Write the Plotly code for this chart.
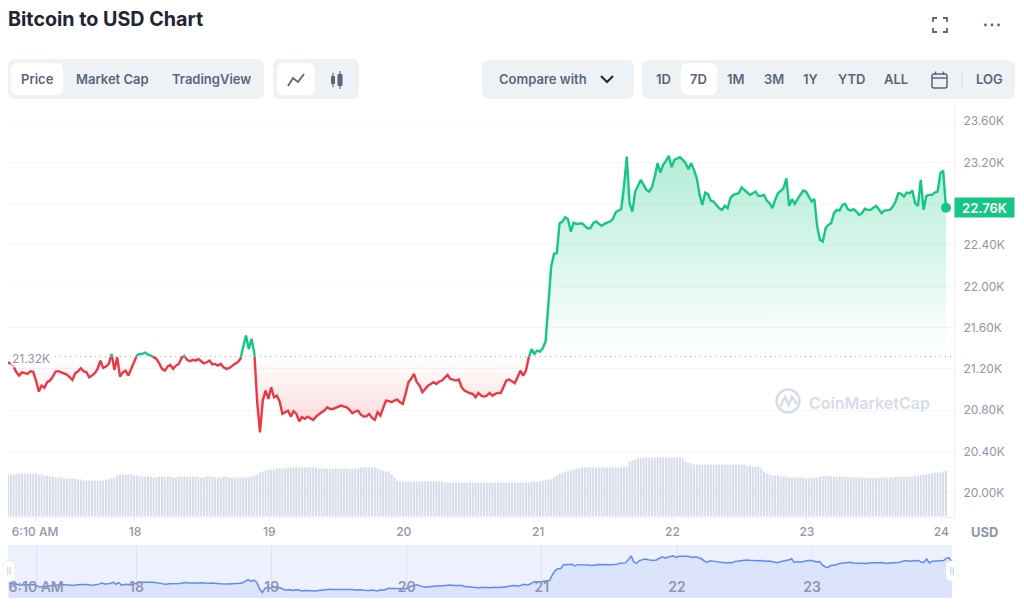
import pandas as pd
import plotly.graph_objects as go

# ---------- data ----------
START = "2023-01-17 01:20"
BASELINE = 21.32
LAST_LABEL = "22.76K"
BASELINE_LABEL = "21.32K"
PRICES = [
21.265,21.249,21.223,21.168,21.136,21.168,21.159,21.152,21.178,21.172,21.088,20.981,21.039,21.017,21.072,21.088,21.126,21.175,21.178,21.165,
21.152,21.146,21.12,21.094,21.159,21.178,21.207,21.178,21.168,21.12,21.136,21.159,21.201,21.281,21.21,21.223,21.249,21.346,21.191,21.314,
21.126,21.168,21.184,21.136,21.201,21.249,21.33,21.346,21.346,21.359,21.339,21.33,21.314,21.297,21.255,21.201,21.184,21.223,21.239,21.201,
21.233,21.249,21.307,21.326,21.288,21.275,21.288,21.281,21.297,21.275,21.255,21.265,21.281,21.243,21.249,21.233,21.249,21.217,21.201,21.207,
21.233,21.249,21.265,21.297,21.41,21.523,21.394,21.491,21.346,20.878,20.587,20.894,20.991,20.91,21.023,20.926,20.942,20.888,20.765,20.781,
20.797,20.739,20.791,20.765,20.694,20.733,20.717,20.739,20.726,20.707,20.739,20.765,20.781,20.797,20.829,20.813,20.813,20.823,20.836,
20.846,20.836,20.829,20.804,20.771,20.788,20.797,20.758,20.739,20.742,20.765,20.726,20.707,20.781,20.749,20.823,20.894,20.888,20.878,20.894,
20.904,20.878,20.862,20.959,21.072,21.104,21.152,21.072,21.039,20.975,21.007,21.039,21.055,21.072,21.055,21.078,21.088,21.113,21.143,21.104,
21.094,21.088,21.097,21.023,20.991,20.975,20.965,20.959,20.926,20.968,20.942,20.933,20.942,20.968,20.942,20.959,20.968,20.968,21.023,21.088,
21.097,21.081,21.062,21.12,21.184,21.136,21.184,21.314,
21.391,21.346,21.378,21.368,21.401,21.465,21.862,22.191,22.314,22.32,22.611,22.627,22.669,22.65,22.53,22.617,22.604,22.611,22.611,22.585,
22.562,22.562,22.611,22.627,22.604,22.585,22.604,22.617,22.627,22.65,22.714,22.733,22.746,22.966,23.256,22.804,22.724,22.917,22.972,23.03,
22.982,22.934,22.917,22.959,23.063,23.192,23.101,23.176,23.214,23.263,23.153,23.224,23.237,23.25,23.224,23.192,23.134,23.192,23.127,23.046,
22.885,22.788,22.908,22.892,22.83,22.821,22.788,22.756,22.74,22.779,22.756,22.853,22.885,22.892,22.901,22.956,22.934,22.911,22.885,22.901,
22.917,22.875,22.875,22.885,22.83,22.804,22.756,22.837,22.901,
22.924,22.95,23.046,22.779,22.843,22.798,22.843,22.885,22.927,22.917,22.869,22.821,22.843,22.579,22.449,22.433,22.562,22.595,22.611,22.708,
22.74,22.733,22.788,22.798,22.746,22.733,22.746,22.724,22.691,22.708,22.75,22.74,22.74,22.756,22.779,22.746,22.708,22.733,22.733,22.74,
22.772,22.821,22.901,22.895,22.869,22.908,22.901,22.927,22.804,22.779,23.03,22.74,22.875,22.885,22.885,22.908,22.917,23.095,23.121,22.76,
]
VOLUMES = [
42,42,42,43,43,43,43,43,43,43,43,42,42,41,41,40,40,39,39,39,38,38,38,38,38,37,37,36,36,36,36,36,36,36,36,37,37,38,39,
41,42,42,42,42,42,41,41,40,40,40,40,40,39,39,40,40,40,40,40,39,39,40,40,40,40,40,40,40,40,39,39,40,40,40,39,39,39,40,40,39,39,39,39,39,39,
39,39,40,41,42,44,45,46,47,47,47,48,48,48,48,49,49,49,49,49,49,49,49,49,49,49,
48,48,48,48,48,48,48,48,48,48,48,48,48,48,48,49,49,49,49,49,49,48,47,46,45,45,42,39,36,35,
35,35,35,35,35,35,35,35,35,35,35,35,35,35,35,
34,34,34,34,34,34,34,34,34,34,34,34,34,34,34,34,34,34,34,34,34,34,34,34,34,34,34,34,34,34,34,
35,35,35,35,36,36,37,37,39,41,43,44,45,45,46,47,48,48,
49,49,49,49,49,49,49,49,49,49,49,49,49,49,49,50,50,55,56,57,58,58.5,
59,59,59,59,59,59,59,59,59,59,59,59,59,59,58,55,54,53,52,52,
52,52,52,52,52,52,52,52,52,52,52,52,52,52,52,52,52,
51,51,50,50,50,48,45,43,42,41,41,41,40,40,40,39,39,39,39,39,38.5,38.5,38.5,38.5,
39,39,40,40,40.5,40.5,40,40,40,40,40,39.5,39.5,39,39,39,39,39,38.5,38.5,38.5,38.5,38.5,38.5,
39,39,39,39,39,39.5,39.5,39.5,40,40,40,40,41,41,41,42,42,43,43,44,44,44,45,45.5,
]
Y_TICKS = [20.0, 20.4, 20.8, 21.2, 21.6, 22.0, 22.4, 22.8, 23.2, 23.6]
Y_LABELS = ["20.00K","20.40K","20.80K","21.20K","21.60K","22.00K","22.40K","","23.20K","23.60K"]
X_TICKS = ["2023-01-17 06:10","2023-01-18","2023-01-19","2023-01-20","2023-01-21","2023-01-22","2023-01-23","2023-01-24"]
X_LABELS = ["6:10 AM","18","19","20","21","22","23","24"]
NAV_TICKS = X_TICKS[:-1]
NAV_LABELS = X_LABELS[:-1]

# ---------- styles ----------
W, H = 1024, 611
GREEN, RED = "#16c784", "#ea3943"
GREY = "#8f96ab"
UI = "#58667e"
PANEL = "#eff2f5"
GRID = "#f4f5f7"
FONT = "Inter"

def px(x): return x / W
def py(y): return 1 - y / H

# ---------- split the line at the baseline ----------
t = pd.date_range(START, periods=len(PRICES), freq="30min")
ms = [int(v.value // 10**6) for v in t]
xs, ys = [ms[0]], [PRICES[0]]
for i in range(1, len(PRICES)):
    a, b = PRICES[i - 1], PRICES[i]
    if (a - BASELINE) * (b - BASELINE) < 0:
        f = (BASELINE - a) / (b - a)
        xs.append(ms[i - 1] + f * (ms[i] - ms[i - 1]))
        ys.append(BASELINE)
    xs.append(ms[i])
    ys.append(b)

def keep(test):
    ox, oy = [], []
    for i, (x, y) in enumerate(zip(xs, ys)):
        if test(y):
            ox.append(x); oy.append(y)
        elif ox and ox[-1] is not None:
            ox.append(None); oy.append(None)
    return ox, oy

gx, gy = keep(lambda v: v >= BASELINE)
rx, ry = keep(lambda v: v <= BASELINE)
up = [max(v, BASELINE) for v in ys]
down = [min(v, BASELINE) for v in ys]
flat = [BASELINE] * len(xs)

fig = go.Figure()
nofill = dict(mode="lines", line=dict(width=0), hoverinfo="skip", showlegend=False)

fig.add_trace(go.Bar(x=ms[:len(VOLUMES)], y=VOLUMES, yaxis="y2", marker=dict(color="#d6dcea", line=dict(width=0)), hoverinfo="skip", showlegend=False))
fig.add_trace(go.Scatter(x=xs, y=flat, **nofill))
fig.add_trace(go.Scatter(x=xs, y=up, fill="tonexty", fillgradient=dict(type="vertical", start=BASELINE, stop=23.25,
    colorscale=[[0, "rgba(22,199,132,0)"], [1, "rgba(22,199,132,0.32)"]]), **nofill))
fig.add_trace(go.Scatter(x=xs, y=flat, **nofill))
fig.add_trace(go.Scatter(x=xs, y=down, fill="tonexty", fillgradient=dict(type="vertical", start=BASELINE, stop=20.6,
    colorscale=[[0, "rgba(234,57,67,0)"], [1, "rgba(234,57,67,0.2)"]]), **nofill))
fig.add_trace(go.Scatter(x=rx, y=ry, mode="lines", line=dict(color=RED, width=2.4), hoverinfo="skip", showlegend=False))
fig.add_trace(go.Scatter(x=gx, y=gy, mode="lines", line=dict(color=GREEN, width=2.4), hoverinfo="skip", showlegend=False))
fig.add_trace(go.Scatter(x=[ms[-1]], y=[PRICES[-1]], mode="markers", marker=dict(color=GREEN, size=10), hoverinfo="skip", showlegend=False))
fig.add_trace(go.Scatter(x=ms, y=PRICES, xaxis="x2", yaxis="y3", mode="lines", fill="tozeroy", fillcolor="#dbe4fb",
    line=dict(color="#6188ff", width=1.5), hoverinfo="skip", showlegend=False))

# ---------- helpers for page furniture ----------
shapes, notes = [], []

def rrect(x0, y0, x1, y1, r, color, line=None, layer="below"):
    p = (f"M{px(x0+r)},{py(y0)} L{px(x1-r)},{py(y0)} Q{px(x1)},{py(y0)} {px(x1)},{py(y0+r)} "
         f"L{px(x1)},{py(y1-r)} Q{px(x1)},{py(y1)} {px(x1-r)},{py(y1)} L{px(x0+r)},{py(y1)} "
         f"Q{px(x0)},{py(y1)} {px(x0)},{py(y1-r)} L{px(x0)},{py(y0+r)} Q{px(x0)},{py(y0)} {px(x0+r)},{py(y0)} Z")
    shapes.append(dict(type="path", xref="paper", yref="paper", path=p, fillcolor=color,
                       line=dict(width=line[1] if line else 0, color=line[0] if line else color), layer=layer))

def poly(pts, color, width=1.6):
    p = "M" + " L".join(f"{px(x)},{py(y)}" for x, y in pts)
    shapes.append(dict(type="path", xref="paper", yref="paper", path=p, line=dict(color=color, width=width), layer="above"))

def dot(x, y, r, color, fill=True, width=0):
    shapes.append(dict(type="circle", xref="paper", yref="paper", x0=px(x-r), x1=px(x+r), y0=py(y+r), y1=py(y-r),
                       fillcolor=color if fill else "rgba(0,0,0,0)", line=dict(color=color, width=width), layer="above"))

def text(x, y, s, size=13, color=UI, weight=600, anchor="center"):
    notes.append(dict(xref="paper", yref="paper", x=px(x), y=py(y), text=s, showarrow=False, xanchor=anchor, yanchor="middle",
                      font=dict(family=FONT, size=size, color=color, weight=weight)))

# navigator background
rrect(8, 545, 952, 598, 0.01, "#edf1fe")

# button groups
rrect(8, 59, 264, 99, 8, PANEL)
rrect(11, 63, 63, 95, 7, "#ffffff")
rrect(273, 59, 359, 99, 8, PANEL)
rrect(277, 63, 315, 95, 7, "#ffffff")
rrect(482, 60, 634, 99, 8, PANEL)
rrect(642, 60, 1015, 99, 8, PANEL)
rrect(681, 63, 717, 95, 7, "#ffffff")

for x, s in [(37, "Price"), (112, "Market Cap"), (211, "TradingView"), (543, "Compare with"),
             (663, "1D"), (698, "7D"), (736, "1M"), (774, "3M"), (810, "1Y"), (851, "YTD"), (896, "ALL"), (989, "LOG")]:
    text(x, 79, s)

poly([(288, 86), (293, 78), (298, 82), (304, 74)], UI, 1.8)
poly([(333, 73), (333, 87)], UI, 1.2)
poly([(340, 71), (340, 89)], UI, 1.2)
rrect(331, 76, 335, 84, 1, UI, layer="above")
rrect(337.5, 74, 342.5, 86, 1, UI, layer="above")
poly([(601, 76), (607, 82), (613, 76)], "#222531", 2)
rrect(932, 74, 947, 88, 2, "rgba(0,0,0,0)", line=(UI, 1.5), layer="above")
poly([(932, 78), (947, 78)], UI, 1.5)
poly([(935.5, 71.5), (935.5, 75)], UI, 1.5)
poly([(943.5, 71.5), (943.5, 75)], UI, 1.5)
poly([(962, 71), (962, 88)], "#dde1e7", 1.2)

# fullscreen and menu icons
for a, b, c in [((933, 22), (933, 18), (937, 18)), ((943, 18), (947, 18), (947, 22)),
                ((947, 28), (947, 32), (943, 32)), ((937, 32), (933, 32), (933, 28))]:
    poly([a, b, c], UI, 1.8)
for x in (985.5, 992, 998.5):
    dot(x, 25, 1.4, UI)

# watermark
dot(788, 401, 11.5, "#d6dce8", fill=False, width=2.4)
poly([(780, 407), (785, 397), (788.5, 405), (792, 397), (797, 404)], "#d6dce8", 2.4)
text(869, 403, "CoinMarketCap", size=16, color="#d6dce8", weight=600)

# navigator grips
rrect(3, 561, 15, 581, 5, "#ffffff", line=("#e6e9f0", 0.6), layer="above")
rrect(946, 561, 958, 581, 5, "#ffffff", line=("#e6e9f0", 0.6), layer="above")
for x in (7.8, 10.2, 950.8, 953.2):
    poly([(x, 567), (x, 575)], "#c3cad8", 1)

text(984, 532, "USD", size=13, color=GREY, weight=700)

# price tag and baseline label, tied to the value axis
notes.append(dict(xref="paper", yref="y", x=px(954), y=PRICES[-1], text=LAST_LABEL, showarrow=False, xanchor="left", yanchor="middle",
                  width=59, height=19, align="center", bgcolor=GREEN, borderpad=0,
                  font=dict(family=FONT, size=13, color="#ffffff", weight=600)))
notes.append(dict(xref="paper", yref="y", x=px(10), y=BASELINE, yshift=-2, text=BASELINE_LABEL, showarrow=False, xanchor="left", yanchor="middle",
                  bgcolor="rgba(255,255,255,0.65)", borderpad=1,
                  font=dict(family=FONT, size=12, color=GREY, weight=400)))

shapes.append(dict(type="line", xref="paper", yref="y", x0=px(55), x1=px(954), y0=BASELINE, y1=BASELINE,
                   line=dict(color="#a8aeb9", width=1, dash="1px,4px"), layer="above"))

fig.update_layout(
    width=W, height=H, margin=dict(l=0, r=0, t=0, b=0), autosize=False,
    paper_bgcolor="#ffffff", plot_bgcolor="rgba(0,0,0,0)", bargap=0.28, hovermode=False,
    font=dict(family=FONT),
    title=dict(text="Bitcoin to USD Chart", x=px(8), xref="paper", xanchor="left", y=py(19), yref="paper", yanchor="middle",
               font=dict(family=FONT, size=19.7, color="#222531", weight=700)),
    xaxis=dict(type="date", domain=[px(8), px(954)], range=["2023-01-17 01:20", "2023-01-24 02:16"], anchor="y",
               tickmode="array", tickvals=X_TICKS, ticktext=X_LABELS, showgrid=False, zeroline=False,
               showline=True, linecolor=PANEL, linewidth=1, ticks="outside", ticklen=4, tickcolor=PANEL,
               tickfont=dict(family=FONT, size=12, color=GREY, weight=500), tickangle=0, fixedrange=True),
    yaxis=dict(domain=[py(516.5), py(105)], range=[19.772, 23.755], side="right", anchor="x",
               tickmode="array", tickvals=Y_TICKS, ticktext=Y_LABELS, showgrid=True, gridcolor=GRID, gridwidth=1, zeroline=False,
               showline=True, linecolor=PANEL, linewidth=1, ticks="", ticklabelstandoff=6,
               tickfont=dict(family=FONT, size=12, color=GREY, weight=400), fixedrange=True),
    yaxis2=dict(overlaying="y", range=[0, 411.5], visible=False, fixedrange=True),
    xaxis2=dict(type="date", domain=[px(8), px(952)], range=["2023-01-17 01:10", "2023-01-24 00:50"], anchor="y3",
                tickmode="array", tickvals=NAV_TICKS, ticktext=NAV_LABELS, showgrid=True, gridcolor="#dde3f3", gridwidth=1,
                zeroline=False, ticks="", ticklen=0, ticklabelposition="inside", tickangle=0,
                tickfont=dict(family=FONT, size=14, color=GREY, weight=600), fixedrange=True),
    yaxis3=dict(domain=[py(598), py(545)], range=[20.19, 24.05], anchor="x2", visible=False, fixedrange=True),
    shapes=shapes, annotations=notes,
)

fig.write_html("out.html", config=dict(displayModeBar=False),
               post_script="document.body.style.margin='0';document.body.style.overflow='hidden';")
